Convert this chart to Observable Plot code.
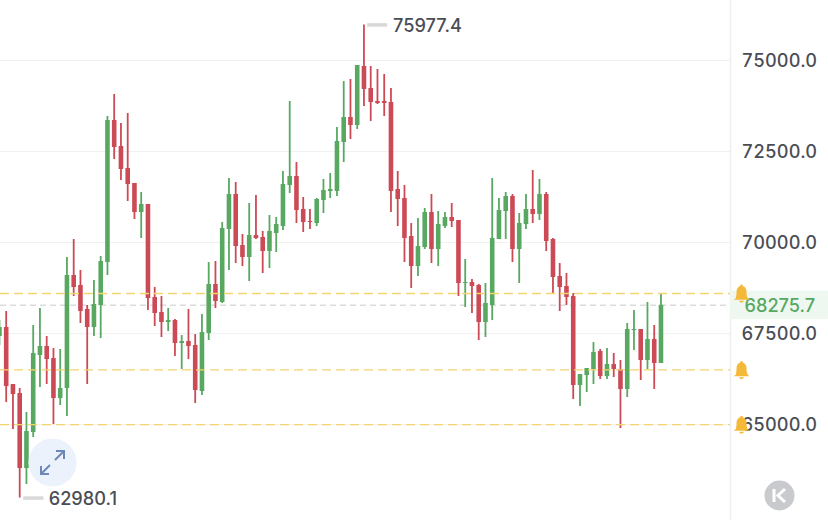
<!DOCTYPE html>
<html>
<head>
<meta charset="utf-8">
<script src="https://cdn.jsdelivr.net/npm/d3@7"></script>
<script src="https://cdn.jsdelivr.net/npm/@observablehq/plot@0.6"></script>
<style>
html,body{margin:0;padding:0;background:#fff;}
svg{display:block;}
</style>
</head>
<body>
<div id="chart"></div>
<script>
const opens = [
67417,67665,66099,65852,63791,64780,66896,67143,66813,65714,
65989,69094,68819,68160,67665,68270,69450,73352,72637,72033,
71621,70824,71044,68489,68077,67802,67857,67226,67281,67171,
65907,67500,68846,68352,70357,71319,69918,69588,70193,70138,
69753,70248,70439,71566,71813,70907,70577,70522,71154,71402,
71402,72747,73434,73215,74835,74230,73874,73874,73846,71456,
71209,70165,69340,69863,70824,69808,70439,70687,70604,68874,
68901,68819,67802,68270,70083,70852,71264,69808,70494,70907,
70769,71319,70083,69066,68791,68516,66072,66346,66511,67006,
66318,66648,66511,65962,67582,67610,66758,67335,66676];
const closes = [
67665,66044,65824,63791,64808,66951,67143,66786,65714,65989,
69094,68764,68105,67665,68297,69478,73352,72610,72006,71593,
70824,71044,68461,68050,67802,67857,67226,67281,67143,65934,
67527,68846,68380,70384,71319,69890,69588,70193,70110,69753,
70303,70494,71593,71813,70879,70549,70549,71182,71429,71456,
72775,73434,73215,74863,74203,73846,73819,73819,71402,71182,
70110,69340,69890,70824,69808,70494,70687,70577,68874,68901,
68791,67802,68325,70110,70879,71264,69808,70522,70907,70769,
71319,70027,69039,68764,68489,66072,66373,66538,66978,66318,
66648,66511,65962,67610,67610,66758,67335,66676,68275.7];
const highs = [
67857,68105,66099,65989,65330,67720,68187,67417,67088,67061,
69588,70083,69231,68270,68956,69615,73461,74066,73270,73544,
71621,71374,71044,68764,68516,68187,67885,67445,68160,67472,
68022,69450,69478,70549,71758,71648,70220,71072,71292,70303,
70742,70687,71951,73874,72198,71237,70907,71209,71731,71896,
73160,74423,74478,74863,75977.4,74835,74753,74615,74230,71951,
71566,70522,70659,70934,71319,70852,70824,71072,70604,69533,
68984,68846,68874,71758,71209,71374,71319,70797,71319,71978,
71731,71374,70110,69423,69149,68599,66373,66538,67253,67061,
67088,66951,66758,67775,68132,67610,68352,67720,68599];
const lows = [
67171,65605,64863,62980.1,63352,64643,66017,66099,65000,65523,
65220,68516,67775,66099,67417,67362,69094,72280,71703,71127,
70632,70110,68132,67692,67390,67555,66868,66511,66786,65578,
65797,67308,68187,68325,69231,69423,69340,68929,70083,69149,
69285,69725,70330,71347,70522,70275,70357,70439,70797,71209,
71264,72198,72830,73105,73736,73325,73791,73461,70824,70439,
69450,68736,69066,69808,69423,69340,70384,70412,68516,68215,
68050,67308,67390,67857,70083,70083,69450,68874,70357,70522,
70604,69753,68599,68105,68270,65687,65495,65879,66099,66236,
66236,66291,64890,65742,67033,66209,66511,65962,66676];
const priceTicks = [65000, 67500, 70000, 72500, 75000];
const alertPrices = [68599, 66500, 65000];
const lastPrice = 68275.7;
const maxPrice = 75977.4, maxIndex = 54;
const minPrice = 62980.1, minIndex = 3;

const GREEN = "#58a862", RED = "#cc4a56", TEXT = "#4a4d55";
const FONT = "Inter, 'Noto Sans', sans-serif";
const LABEL = 18.2;
const candles = opens.map((o, i) => ({i, o, c: closes[i], h: highs[i], l: lows[i], dir: closes[i] >= o ? "up" : "down"}));
const xMax = 108.3, xPageEnd = 122.8;

const bell = {draw(ctx) {
  ctx.moveTo(-6, 5);
  ctx.bezierCurveTo(-5, 3, -5, 0, -5, -2);
  ctx.bezierCurveTo(-5, -5, -3, -7, -1, -7.4);
  ctx.arc(0, -7.6, 1.3, Math.PI, 0);
  ctx.lineTo(1, -7.4);
  ctx.bezierCurveTo(3, -7, 5, -5, 5, -2);
  ctx.bezierCurveTo(5, 0, 5, 3, 6.5, 5);
  ctx.lineTo(8, 6.3);
  ctx.lineTo(-8, 6.3);
  ctx.closePath();
  ctx.moveTo(-2.4, 7.2);
  ctx.lineTo(2.4, 7.2);
  ctx.bezierCurveTo(2, 9.6, -2, 9.6, -2.4, 7.2);
  ctx.closePath();
}};
const expand = {draw(ctx) {
  const arrow = (s) => {
    ctx.moveTo(s * 2.5, s * -2.5); ctx.lineTo(s * 11.5, s * -11.5);
    ctx.moveTo(s * 3.5, s * -11.5); ctx.lineTo(s * 11.5, s * -11.5); ctx.lineTo(s * 11.5, s * -3.5);
  };
  arrow(1); arrow(-1);
}};
const rewind = {draw(ctx) {
  ctx.moveTo(-5.5, -6.5); ctx.lineTo(-5.5, 6.5);
  ctx.moveTo(5.5, -6.5); ctx.lineTo(-1.5, 0); ctx.lineTo(5.5, 6.5);
}};

const chart = Plot.plot({
  width: 828, height: 520,
  marginTop: 0, marginBottom: 0, marginLeft: 0, marginRight: 98,
  style: {background: "#fff", fontFamily: FONT},
  x: {domain: [0.156, xMax], axis: null},
  y: {domain: [62364, 76648], axis: null},
  color: {domain: ["up", "down"], range: [GREEN, RED]},
  marks: [
    Plot.gridY(priceTicks, {stroke: "#f1f1f2", strokeOpacity: 1, strokeWidth: 1.2}),
    Plot.ruleX([xMax], {stroke: "#efeff1", strokeWidth: 1.5}),
    Plot.rect([lastPrice], {x1: xMax, x2: xPageEnd, y1: d => d - 390, y2: d => d + 390, fill: "#eef8f0"}),
    Plot.ruleY([lastPrice], {stroke: "#dcdcdc", strokeWidth: 1.5, strokeDasharray: "6,4"}),
    Plot.ruleX(candles, {x: "i", y1: "l", y2: "h", stroke: "dir", strokeWidth: 1.8, clip: true}),
    Plot.ruleX(candles, {x: "i", y1: "o", y2: "c", stroke: "dir", strokeWidth: 4.6, clip: true}),
    Plot.ruleY(alertPrices, {stroke: "#f2d470", strokeWidth: 1.3, strokeDasharray: "9,5"}),
    Plot.axisY(priceTicks, {
      anchor: "right", tickSize: 0, tickPadding: 11, label: null,
      tickFormat: d => d.toFixed(1), fontSize: LABEL, fontWeight: 500, fill: TEXT, dy: 1
    }),
    Plot.text([lastPrice], {
      y: d => d, frameAnchor: "right", dx: 14, dy: 1, textAnchor: "start",
      text: d => d.toFixed(1), fill: GREEN, fontSize: LABEL, fontWeight: 500
    }),
    Plot.dot(alertPrices, {
      y: d => d, frameAnchor: "right", dx: 11, symbol: bell, r: 8,
      fill: "#f5b93a", stroke: "none"
    }),
    Plot.ruleY([maxPrice], {x1: maxIndex + 0.55, x2: maxIndex + 3.5, stroke: "#d8d8d8", strokeWidth: 3.5}),
    Plot.text([maxPrice], {
      x: maxIndex, y: d => d, dx: 29, dy: 1, textAnchor: "start",
      text: d => d.toFixed(1), fill: TEXT, fontSize: LABEL, fontWeight: 500
    }),
    Plot.ruleY([minPrice], {x1: minIndex + 0.6, x2: minIndex + 3.6, stroke: "#d8d8d8", strokeWidth: 3.5}),
    Plot.text([minPrice], {
      x: minIndex, y: d => d, dx: 29, dy: 1, textAnchor: "start",
      text: d => d.toFixed(1), fill: TEXT, fontSize: LABEL, fontWeight: 500
    }),
    Plot.dot([0], {frameAnchor: "bottom-left", dx: 52, dy: -58, r: 24, fill: "#ebf2fb", stroke: "none"}),
    Plot.dot([0], {frameAnchor: "bottom-left", dx: 52, dy: -58, symbol: expand, r: 8, fill: "none", stroke: "#6d88b8", strokeWidth: 2}),
    Plot.dot([0], {frameAnchor: "bottom-right", dx: 49, dy: -25, r: 15, fill: "#c9cacd", stroke: "none"}),
    Plot.dot([0], {frameAnchor: "bottom-right", dx: 49, dy: -25, symbol: rewind, r: 6, fill: "none", stroke: "#fff", strokeWidth: 3})
  ]
});
document.getElementById("chart").appendChild(chart);
</script>
</body>
</html>
